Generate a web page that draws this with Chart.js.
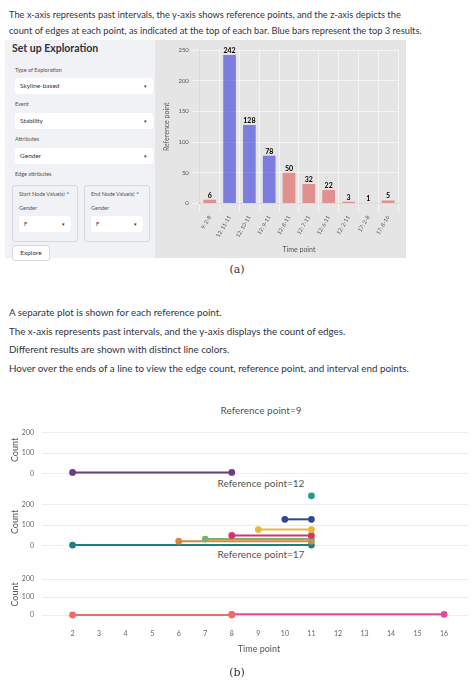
<!DOCTYPE html>
<html>
<head>
<meta charset="utf-8">
<script src="https://cdn.jsdelivr.net/npm/chart.js@4.4.1/dist/chart.umd.min.js"></script>
<style>
  body { margin: 0; width: 474px; height: 684px; background: #fff; font-family: Lato, "Noto Sans", sans-serif; color: #31333f; position: relative; overflow: hidden; }
  .abs { position: absolute; }
  .side { left: 5px; top: 40px; width: 150px; height: 218px; background: #f0f2f6; }
  .side .h { position: absolute; left: 7px; top: 2px; font-size: 10.5px; font-weight: bold; }
  .lbl { position: absolute; left: 10px; font-size: 5.5px; color: #555; }
  .sel { position: absolute; left: 10px; width: 138px; height: 16px; background: #fff; border-radius: 3px; font-size: 6.5px; line-height: 16px; text-indent: 5px; }
  .sel:after { content: "▾"; position: absolute; right: 6px; font-size: 5px; }
  .btn { position: absolute; left: 7px; top: 205px; width: 36px; height: 14px; line-height: 14px; border: 1px solid #d6d8de; border-radius: 3px; background: #fff; font-size: 6.5px; text-align: center; }
  .box { position: absolute; width: 64px; height: 55px; border: 1px solid #d6d8de; border-radius: 3px; }
  .cap { text-align: center; font-family: "DejaVu Serif", serif; font-size: 11px; }
  .ttl { font-size: 10px; color: #555; width: 474px; text-align: center; }
</style>
</head>
<body>
<div class="abs" style="left:9px;top:7px;font-size:9.3px;line-height:16px;">The x-axis represents past intervals, the y-axis shows reference points, and the z-axis depicts the<br>count of edges at each point, as indicated at the top of each bar. Blue bars represent the top 3 results.</div>

<div class="abs side">
  <div class="h">Set up Exploration</div>
  <div class="lbl" style="top:27px;">Type of Exploration</div>
  <div class="sel" style="top:38px;">Skyline-based</div>
  <div class="lbl" style="top:61px;">Event</div>
  <div class="sel" style="top:73px;">Stability</div>
  <div class="lbl" style="top:96px;">Attributes</div>
  <div class="sel" style="top:108px;">Gender</div>
  <div class="lbl" style="top:131px;">Edge attributes</div>
  <div class="box" style="left:7px;top:145px;"></div>
  <div class="box" style="left:79px;top:145px;"></div>
  <div class="lbl" style="left:14px;top:151px;">Start Node Value(s) ^</div>
  <div class="lbl" style="left:86px;top:151px;">End Node Value(s) ^</div>
  <div class="lbl" style="left:14px;top:165px;">Gender</div>
  <div class="lbl" style="left:86px;top:165px;">Gender</div>
  <div class="sel" style="left:14px;top:176px;width:52px;font-size:6px;">F</div>
  <div class="sel" style="left:86px;top:176px;width:52px;font-size:6px;">F</div>
  <div class="btn">Explore</div>
</div>
<div class="abs" style="left:155px;top:40px;width:251px;height:218px;background:#e5e5e5;">
  <canvas id="c3d" width="251" height="218"></canvas>
</div>
<div class="abs cap" style="left:0;top:263px;width:474px;">(a)</div>

<div class="abs" style="left:9px;top:303px;font-size:9.8px;line-height:18.5px;">A separate plot is shown for each reference point.<br>The x-axis represents past intervals, and the y-axis displays the count of edges.<br>Different results are shown with distinct line colors.<br>Hover over the ends of a line to view the edge count, reference point, and interval end points.</div>

<div class="abs ttl" style="left:24px;top:404px;">Reference point=9</div>
<div class="abs ttl" style="left:24px;top:477px;">Reference point=12</div>
<div class="abs ttl" style="left:24px;top:548px;">Reference point=17</div>
<canvas id="r9" class="abs" style="left:0;top:410px;" width="474" height="80"></canvas>
<canvas id="r12" class="abs" style="left:0;top:482px;" width="474" height="80"></canvas>
<canvas id="r17" class="abs" style="left:0;top:558px;" width="474" height="100"></canvas>
<div class="abs cap" style="left:0;top:666px;width:474px;">(b)</div>

<script>
// results: [reference point, interval start, interval end, edge count]
const refPoints = [9, 12, 12, 12, 12, 12, 12, 12, 17, 17];
const startPoints = [2, 11, 10, 9, 8, 7, 6, 2, 2, 8];
const endPoints = [8, 11, 11, 11, 11, 11, 11, 11, 8, 16];
const edgeCounts = [6, 242, 128, 78, 50, 32, 22, 3, 1, 5];
const lineColors = ["#6b3f7c", "#1f9e89", "#2e4a8e", "#e8b83a", "#d6336c", "#7cb26a", "#e0843a", "#1f7f7f", "#f06a6a", "#e8489a"];
const timeTicks = [2, 3, 4, 5, 6, 7, 8, 9, 10, 11, 12, 13, 14, 15, 16];
const countTicks = [0, 100, 200];

Chart.defaults.font.family = "Lato, 'Noto Sans', sans-serif";
Chart.defaults.animation = false;

// top-3 by count are blue
const top3 = [...edgeCounts].sort((a, b) => b - a).slice(0, 3);
const labelPlugin = {
  id: "barLabels",
  afterDatasetsDraw(chart) {
    const ctx = chart.ctx;
    const meta = chart.getDatasetMeta(0);
    ctx.save();
    ctx.font = "bold 7px Lato";
    ctx.fillStyle = "#000";
    ctx.textAlign = "center";
    meta.data.forEach((bar, i) => ctx.fillText(edgeCounts[i], bar.x, bar.y - 2));
    ctx.restore();
  }
};

new Chart(document.getElementById("c3d"), {
  type: "bar",
  data: {
    labels: refPoints.map((r, i) => `${r}: ${startPoints[i]}-${endPoints[i]}`),
    datasets: [{
      data: edgeCounts,
      backgroundColor: edgeCounts.map((v) => top3.includes(v) ? "rgba(40,40,220,0.55)" : "rgba(220,40,40,0.45)"),
      barPercentage: 0.8
    }]
  },
  options: {
    responsive: false,
    layout: { padding: { top: 10, right: 8, left: 4 } },
    plugins: { legend: { display: false }, tooltip: { enabled: false } },
    scales: {
      x: {
        title: { display: true, text: "Time point", color: "#555", font: { size: 7 } },
        ticks: { color: "#555", font: { size: 5.5 }, maxRotation: 60, minRotation: 60 },
        grid: { color: "#f4f4f4" }
      },
      y: {
        title: { display: true, text: "Reference point", color: "#555", font: { size: 7 } },
        ticks: { color: "#555", font: { size: 6 } },
        grid: { color: "#f4f4f4" }
      }
    }
  },
  plugins: [labelPlugin]
});

function makeRef(id, ref, showX) {
  const datasets = [];
  refPoints.forEach((r, i) => {
    if (r !== ref) return;
    const pts = startPoints[i] === endPoints[i]
      ? [{ x: startPoints[i], y: edgeCounts[i] }]
      : [{ x: startPoints[i], y: edgeCounts[i] }, { x: endPoints[i], y: edgeCounts[i] }];
    datasets.push({
      data: pts,
      borderColor: lineColors[i],
      backgroundColor: lineColors[i],
      borderWidth: 2,
      pointRadius: 2.4,
      showLine: true,
      clip: false
    });
  });
  new Chart(document.getElementById(id), {
    type: "scatter",
    data: { datasets },
    options: {
      responsive: false,
      layout: { padding: { top: 2, bottom: 2, right: 4, left: 10 } },
      plugins: { legend: { display: false }, tooltip: { enabled: false } },
      scales: {
        x: {
          type: "linear", min: 1.15, max: 16.9,
          display: showX,
          afterBuildTicks: (s) => { s.ticks = timeTicks.map((v) => ({ value: v })); },
          grid: { display: false },
          border: { display: false },
          title: { display: true, text: "Time point", color: "#555", font: { size: 9 }, padding: 2 },
          ticks: { color: "#666", font: { size: 7 } }
        },
        y: {
          min: -20, max: 250,
          afterBuildTicks: (s) => { s.ticks = countTicks.map((v) => ({ value: v })); },
          afterFit: (s) => { s.width = 40; },
          grid: { color: "#ececec" },
          border: { display: false },
          title: { display: true, text: "Count", color: "#555", font: { size: 9 }, padding: 0 },
          ticks: { color: "#666", font: { size: 7 }, padding: 8 }
        }
      }
    }
  });
}

makeRef("r9", 9, false);
makeRef("r12", 12, false);
makeRef("r17", 17, true);
</script>
</body>
</html>
